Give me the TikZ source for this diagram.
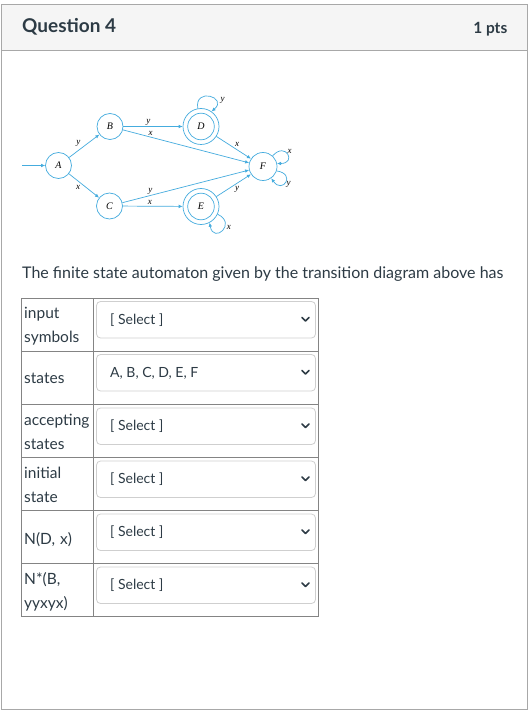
\documentclass[tikz,border=0pt]{standalone}
\usepackage{fontspec}
\setmainfont{Lato}
\newfontfamily\diagfont{Liberation Serif}
\usetikzlibrary{arrows.meta}
\definecolor{txt}{HTML}{2D3B45}
\definecolor{stc}{HTML}{45ACDE}
\definecolor{frm}{HTML}{A8A8A8}
\definecolor{hdr}{HTML}{F5F5F5}
\definecolor{tbl}{HTML}{848484}
\definecolor{selb}{HTML}{CFCFCF}
\tikzset{
  st/.style={circle, draw=stc, line width=0.7pt, minimum size=26pt, inner sep=0pt,
    font=\diagfont\itshape\fontsize{10}{10}\selectfont, text=black},
  acc/.style={st, minimum size=36pt},
  edge/.style={draw=stc, line width=0.7pt, -{Latex[length=4pt,width=3.6pt]}},
  lbl/.style={font=\diagfont\itshape\fontsize{9}{9}\selectfont, text=black, inner sep=1pt},
  cell/.style={anchor=north west, align=left, text=txt, font=\fontsize{15.5}{24}\selectfont, inner sep=0pt, text width=70pt},
  selbox/.style={draw=selb, line width=0.8pt, rounded corners=4pt, fill=white},
  seltxt/.style={anchor=west, text=txt, font=\fontsize{14}{16}\selectfont, inner sep=0pt},
  chev/.style={draw=txt, line width=1.6pt, line cap=round, line join=round}
}
\begin{document}
\begin{tikzpicture}[x=1pt,y=-1pt]
\useasboundingbox (0,0) rectangle (529,711);
\fill[white] (0,0) rectangle (529,711);
% frame and header
\fill[hdr] (1,4.5) rectangle (527.5,50.5);
\draw[frm, line width=1pt] (1,50.5) -- (527.5,50.5);
\draw[frm, line width=1pt] (1,4.5) rectangle (527.5,709.5);
\node[anchor=base west, inner sep=0pt, text=txt, font=\bfseries\fontsize{19}{22}\selectfont] (title) at (22,32.5) {Question 4};
\node[anchor=base east, inner sep=0pt, text=txt, font=\bfseries\fontsize{15.5}{18}\selectfont] (pts) at (507.5,33.5) {1 pts};

% automaton
\node[st] (A) at (58.5,165.5) {A};
\node[st] (B) at (110,126.5) {B};
\node[st] (C) at (109.5,206) {C};
\node[acc] (D) at (201,126.5) {D};
\node[acc] (E) at (201,206.5) {E};
\node[st, minimum size=28pt] (F) at (263,166.5) {F};
\draw[stc, line width=0.7pt] (D.center) circle (13.3);
\draw[stc, line width=0.7pt] (E.center) circle (13.3);
\coordinate (start) at (22,165.5);
\draw[edge] (start) -- (A);
\draw[edge] (A) -- (B) node[lbl, pos=0.42, above left] (lab) {y};
\draw[edge] (A) -- (C) node[lbl, pos=0.42, below left] (lac) {x};
\draw[edge] (B) -- (D) node[lbl, pos=0.42, above] (lbd) {y};
\draw[edge] (B) -- (F) node[lbl, pos=0.22, above] (lbf) {x};
\draw[edge] (C) -- (E) node[lbl, pos=0.45, above] (lce) {x};
\draw[edge] (C) -- (F) node[lbl, pos=0.22, above] (lcf) {y};
\draw[edge] (D) -- (F) node[lbl, pos=0.5, above right] (ldf) {x};
\draw[edge] (E) -- (F) node[lbl, pos=0.5, below right] (lef) {y};
\draw[edge] (D.100) .. controls +(100:22pt) and +(40:22pt) .. (D.55) node[lbl, pos=0.7, right=4pt] (ldd) {y};
\draw[edge] (E.-25) .. controls +(-25:22pt) and +(-80:22pt) .. (E.-62) node[lbl, pos=0.4, right=1pt] (lee) {x};
\draw[edge] (F.48) .. controls +(48:20pt) and +(0:20pt) .. (F.12) node[lbl, pos=0.5, above right=-1pt] (lff1) {x};
\draw[edge] (F.-18) .. controls +(-8:20pt) and +(-55:20pt) .. (F.-55) node[lbl, pos=0.45, below right=-1pt] (lff2) {y};

% text
\node[anchor=base west, inner sep=0pt, text=txt, font=\fontsize{16}{18}\selectfont] (intro) at (22,278) {The finite state automaton given by the transition diagram above has};

% table
\foreach \y in {298,351,404.5,457.5,510.5,563.5}{
  \draw[selbox] (96.5,\y+3.5) rectangle (315.5,\y+40);
  \draw[chev] (302,\y+19.5) -- (305.5,\y+23) -- (309,\y+19.5);
}
\draw[tbl, line width=1pt] (21.5,298) rectangle (318.5,616);
\draw[tbl, line width=1pt] (93.5,298) -- (93.5,616);
\foreach \y in {351,404.5,457.5,510.5,563.5}{
  \draw[tbl, line width=1pt] (21.5,\y) -- (318.5,\y);
}
\node[cell] (r1) at (24,307) {input\\symbols};
\node[cell] (r2) at (24,372.5) {states};
\node[cell] (r3) at (24,413.5) {accepting\\states};
\node[cell] (r4) at (24,466.5) {initial\\state};
\node[cell] (r5) at (24,532) {N(D, x)};
\node[cell] (r6) at (24,572.5) {N*(B,\\yyxyx)};
\node[seltxt] (s1) at (110,320) {[ Select ]};
\node[seltxt] (s2) at (110,373) {A, B, C, D, E, F};
\node[seltxt] (s3) at (110,426.5) {[ Select ]};
\node[seltxt] (s4) at (110,479) {[ Select ]};
\node[seltxt] (s5) at (110,532) {[ Select ]};
\node[seltxt] (s6) at (110,585) {[ Select ]};
\end{tikzpicture}
\end{document}
